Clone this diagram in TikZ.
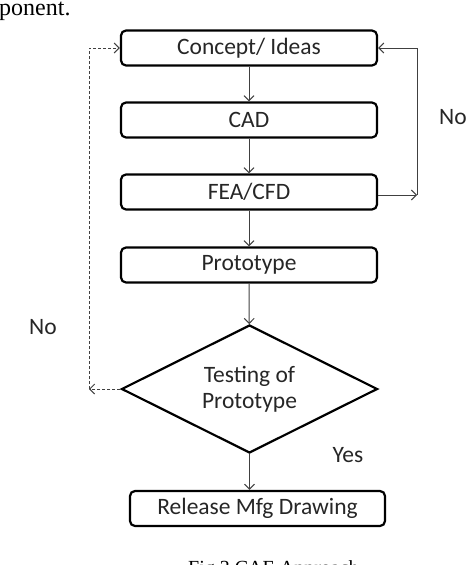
\documentclass[tikz,border=0pt]{standalone}
\usepackage{fontspec}
\setmainfont{Carlito}
\newfontfamily\pagefont{Liberation Serif}
\usetikzlibrary{shapes.geometric, arrows.meta}

\begin{document}
\begin{tikzpicture}[x=1pt, y=-1pt,
		stage/.style = {draw, line width=2.2pt, rounded corners=5pt, minimum width=256pt, minimum height=35pt, inner sep=0pt, text=black!85, font=\fontsize{23.5}{26}\selectfont},
		check/.style = {draw, diamond, line width=2.2pt, minimum width=256pt, minimum height=128pt, aspect=2, inner sep=0pt, align=center, text=black!85, font=\fontsize{23.5}{26}\selectfont},
		flow/.style = {draw=black!75, line width=1pt, -{Straight Barb[length=5pt, width=10pt]}},
		retryflow/.style = {flow, dash pattern=on 3pt off 2pt},
		remark/.style = {text=black!85, font=\fontsize{23.5}{26}\selectfont},
		pagetext/.style = {anchor=base west, inner sep=0pt, text=black}
	]
			\useasboundingbox (0,0) rectangle (474,565);
			\clip (0,0) rectangle (474,565);

			\node [pagetext, font=\pagefont\fontsize{24}{28}\selectfont] (cut-top) at (-1,15) {ponent.};
			\node [pagetext, font=\pagefont\fontsize{20}{24}\selectfont] (cut-caption) at (188,574) {Fig.3 CAE Approach};

			\node [stage] (concept) at (249,48) {Concept/ Ideas};
			\node [stage] (cad) at (249,120) {CAD};
			\node [stage] (fea) at (249,192) {FEA/CFD};
			\node [stage] (proto) at (249,265) {Prototype};
			\node [check] (test) at (249.5,389) {Testing of\\Prototype};
			\node [stage, minimum width=255pt] (release) at (257.5,508.5) {Release Mfg Drawing};

			\draw [flow] (concept) to (cad);
			\draw [flow] (cad) to (fea);
			\draw [flow] (fea) to (proto);
			\draw [flow] (proto) to (test);
			\draw [flow] (test.south) to (test.south |- release.north);

			\coordinate (back) at (417,195);
			\draw [flow] (fea.east |- back) to (back);
			\draw [flow] (back) |- (concept.east);

			\coordinate (retry) at (89,389);
			\draw [retryflow] (test.west) to (retry);
			\draw [retryflow] (retry) |- (concept.west);

			\node [remark] (no-right) at (453,117) {No};
			\node [remark] (no-left) at (43,327) {No};
			\node [remark] (yes) at (348,455) {Yes};
		\end{tikzpicture}
\end{document}
